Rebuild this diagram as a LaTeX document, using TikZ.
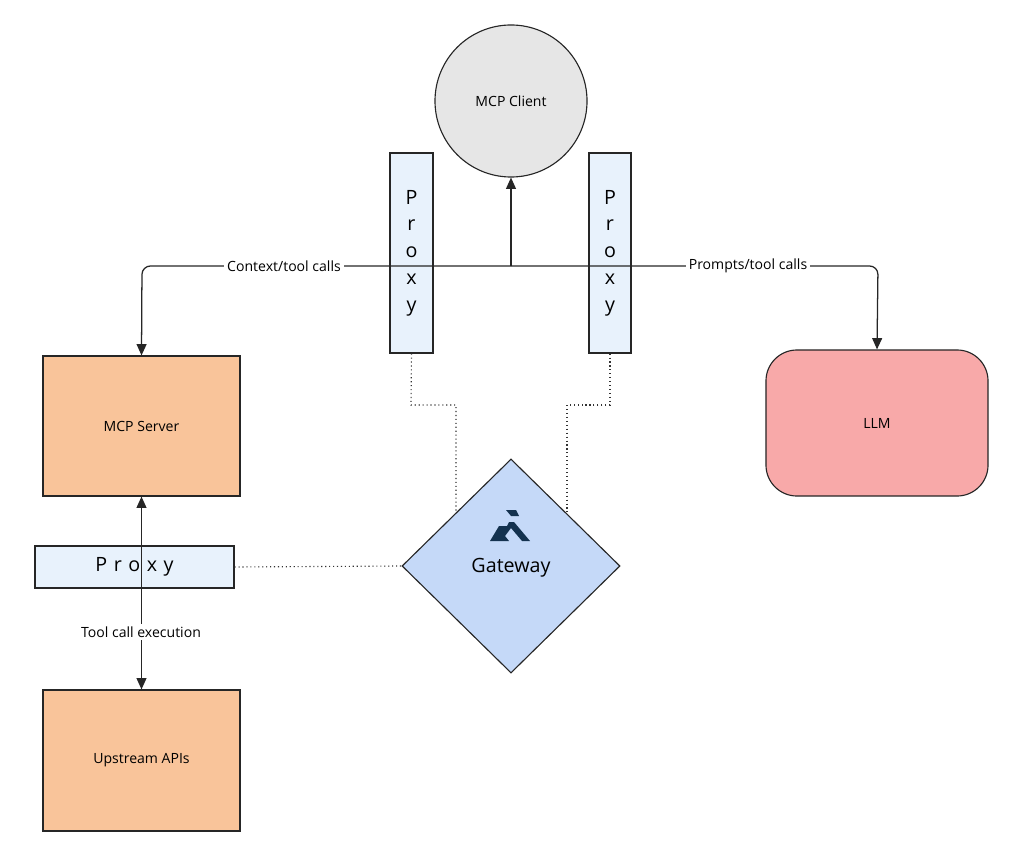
\documentclass[tikz,border=0pt]{standalone}
\usepackage{fontspec}
\setmainfont{Open Sans}
\usetikzlibrary{shapes.geometric,arrows.meta}
\definecolor{clientgray}{HTML}{E6E6E6}
\definecolor{proxyblue}{HTML}{E8F2FC}
\definecolor{serverorange}{HTML}{F9C49A}
\definecolor{llmred}{HTML}{F8A9A9}
\definecolor{gatewayblue}{HTML}{C5D9F8}
\definecolor{kongnavy}{HTML}{14324F}
\tikzset{
  box/.style={draw=black!85, line width=0.8pt, inner sep=0pt, font=\fontsize{10}{12}\selectfont},
  proxy/.style={box, fill=proxyblue, font=\fontsize{14}{19}\selectfont, align=center},
  flow/.style={draw=black!85, line width=0.9pt, rounded corners=6pt},
  tip/.style={-{Triangle[length=8pt,width=7pt]}},
  dots/.style={draw=black!80, line width=0.8pt, dotted},
  lbl/.style={fill=white, inner sep=2pt, font=\fontsize{10}{12}\selectfont}
}
\begin{document}
\begin{tikzpicture}[x=0.025cm, y=-0.025cm]
\useasboundingbox (0,0) rectangle (1024,866);
% nodes
\node[box, circle, fill=clientgray, minimum size=3.8cm] (client) at (511,101) {MCP Client};
\node[proxy, minimum width=1.075cm, minimum height=5cm] (proxyl) at (411.5,253) {P\\r\\o\\x\\y};
\node[proxy, minimum width=1.05cm, minimum height=5cm] (proxyr) at (610,253) {P\\r\\o\\x\\y};
\node[box, fill=serverorange, minimum width=4.925cm, minimum height=3.5cm] (server) at (141.5,426) {MCP Server};
\node[box, fill=serverorange, minimum width=4.925cm, minimum height=3.525cm] (upstream) at (141.5,760.5) {Upstream APIs};
\node[proxy, minimum width=4.975cm, minimum height=1.05cm] (proxyb) at (134.5,567) {P\,\,r\,\,o\,\,x\,\,y};
\node[box, fill=llmred, rounded corners=22pt, minimum width=5.55cm, minimum height=3.65cm] (llm) at (877,423) {LLM};
\node[box, diamond, fill=gatewayblue, minimum width=5.45cm, minimum height=5.35cm] (gateway) at (511,566) {};
\node[font=\fontsize{14}{16}\selectfont] (gwtext) at (511,568) {Gateway};
% logo
\fill[kongnavy] (490,541) -- (499,526) -- (507,526) -- (509,522) -- (514,522) -- (530,541)
  -- (522,541) -- (511,528) -- (505,536) -- (509,541) -- cycle;
\fill[kongnavy] (506,510) -- (516,510) -- (519,516) -- (511,516) -- cycle;
% connectors
\coordinate (hub) at (511,266);
\draw[flow, tip] (hub) -- (client.south);
\draw[flow, tip] (hub) -- (142,266) -- (server.north);
\draw[flow, tip] (hub) -- (878,266) -- (llm.north);
\node[lbl] at (284,266) {Context/tool calls};
\node[lbl] at (748,266) {Prompts/tool calls};
\draw[flow, {Triangle[length=8pt,width=7pt]}-{Triangle[length=8pt,width=7pt]}] (server.south) -- (upstream.north);
\node[lbl] at (141,632) {Tool call execution};
\draw[dots] (proxyl.south) -- (411,405) -- (456,405) -- (456,512);
\draw[dots] (proxyr.south) -- (610,405) -- (567,405) -- (567,512);
\draw[dots] (proxyb.east) -- (gateway.west);
\end{tikzpicture}
\end{document}
